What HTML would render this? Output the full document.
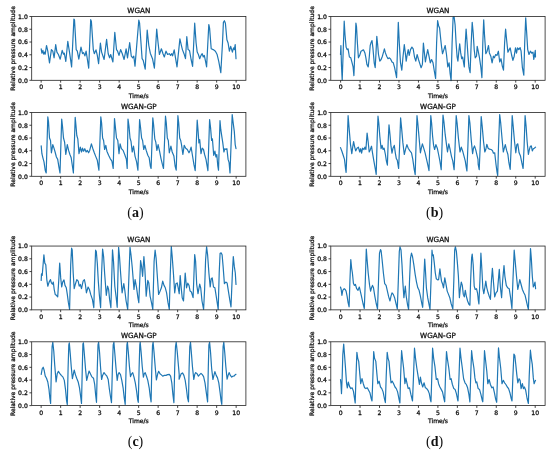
<!DOCTYPE html>
<html><head><meta charset="utf-8"><title>Figure</title>
<style>
html,body{margin:0;padding:0;background:#fff;}
svg{display:block}
.t{font-family:"DejaVu Sans","Liberation Sans",sans-serif;fill:#111;stroke:#111;stroke-width:0.28px}
.cap{font-family:"Liberation Serif","DejaVu Serif",serif;fill:#111}
</style></head><body>
<svg width="550" height="455" viewBox="0 0 550 455">
<rect width="550" height="455" fill="#fff"/>

<g>
<path d="M41.2,48.8 L41.9,53.2 L42.9,50.4 L43.7,54.2 L44.5,52.1 L45.2,54.2 L46.5,45.5 L47.8,51.2 L49.5,62.8 L51.4,49.6 L52.8,51.2 L54.1,57.8 L55.7,44.6 L56.9,52.1 L58.4,54.5 L60.2,59.2 L62.2,50.4 L63.5,54.2 L64.3,53.2 L65.8,61.5 L67.8,41.3 L69.6,52.9 L71.6,66.9 L73.9,19.1 L74.5,19.9 L76.2,49.6 L77.3,51.2 L78.8,59.2 L81.0,47.1 L82.5,53.7 L83.6,52.6 L84.9,55.9 L86.1,51.2 L87.4,59.5 L88.7,68.1 L90.7,19.6 L91.4,21.5 L93.3,49.6 L94.3,53.7 L96.0,49.9 L97.3,55.4 L98.6,63.6 L100.4,43.0 L101.6,52.1 L104.1,59.5 L106.6,39.4 L108.2,53.7 L109.6,57.8 L110.7,54.5 L112.9,62.0 L114.8,32.3 L116.5,49.6 L117.6,51.2 L119.0,55.4 L120.6,49.6 L122.3,53.7 L124.1,59.5 L126.1,48.8 L127.5,57.8 L129.7,42.7 L131.3,56.2 L132.7,57.8 L133.8,56.2 L135.0,66.1 L138.8,20.2 L139.6,23.2 L142.1,58.7 L143.2,60.3 L145.2,69.1 L147.2,30.1 L148.8,45.5 L150.3,53.2 L152.5,58.7 L154.4,68.1 L156.7,29.0 L158.1,43.0 L159.4,54.5 L161.4,48.8 L163.0,53.7 L164.3,57.0 L166.0,51.2 L167.6,54.5 L169.3,53.7 L170.6,55.4 L171.8,53.7 L172.6,55.9 L174.2,49.9 L175.5,57.8 L177.0,66.9 L179.9,38.9 L181.2,44.6 L182.4,49.6 L184.0,53.7 L185.5,58.7 L186.8,36.7 L188.1,49.6 L189.5,50.4 L191.1,59.5 L192.6,66.4 L194.7,23.2 L196.1,43.0 L197.2,52.1 L198.4,54.5 L199.7,58.7 L201.0,55.4 L202.2,53.7 L203.3,57.0 L204.3,55.4 L205.5,61.1 L206.6,66.9 L208.8,24.5 L209.6,28.1 L211.2,48.8 L213.2,49.6 L215.4,51.2 L217.0,54.2 L218.7,61.1 L220.8,72.7 L222.5,43.0 L223.4,22.4 L224.4,20.7 L225.4,23.2 L226.9,39.7 L228.1,43.0 L229.4,51.2 L230.7,46.3 L232.4,52.1 L233.5,47.9 L234.3,49.6 L235.2,44.6 L236.0,58.7" fill="none" stroke="#1f77b4" stroke-width="1.2" stroke-linejoin="round" stroke-linecap="round"/>
<rect x="31.7" y="16.5" width="214.20" height="63.8" fill="none" stroke="#222" stroke-width="0.8"/>
<path d="M41.15,80.3v2.3 M60.65,80.3v2.3 M80.15,80.3v2.3 M99.65,80.3v2.3 M119.15,80.3v2.3 M138.65,80.3v2.3 M158.15,80.3v2.3 M177.65,80.3v2.3 M197.15,80.3v2.3 M216.65,80.3v2.3 M236.15,80.3v2.3 M31.7,80.30h-2.3 M31.7,67.54h-2.3 M31.7,54.78h-2.3 M31.7,42.02h-2.3 M31.7,29.26h-2.3 M31.7,16.50h-2.3" stroke="#222" stroke-width="0.85" fill="none"/>
<text class="t" x="41.15" y="89.40" font-size="6.12" text-anchor="middle">0</text>
<text class="t" x="60.65" y="89.40" font-size="6.12" text-anchor="middle">1</text>
<text class="t" x="80.15" y="89.40" font-size="6.12" text-anchor="middle">2</text>
<text class="t" x="99.65" y="89.40" font-size="6.12" text-anchor="middle">3</text>
<text class="t" x="119.15" y="89.40" font-size="6.12" text-anchor="middle">4</text>
<text class="t" x="138.65" y="89.40" font-size="6.12" text-anchor="middle">5</text>
<text class="t" x="158.15" y="89.40" font-size="6.12" text-anchor="middle">6</text>
<text class="t" x="177.65" y="89.40" font-size="6.12" text-anchor="middle">7</text>
<text class="t" x="197.15" y="89.40" font-size="6.12" text-anchor="middle">8</text>
<text class="t" x="216.65" y="89.40" font-size="6.12" text-anchor="middle">9</text>
<text class="t" x="236.15" y="89.40" font-size="6.12" text-anchor="middle">10</text>
<text class="t" x="27.80" y="82.55" font-size="6.12" text-anchor="end">0.0</text>
<text class="t" x="27.80" y="69.79" font-size="6.12" text-anchor="end">0.2</text>
<text class="t" x="27.80" y="57.03" font-size="6.12" text-anchor="end">0.4</text>
<text class="t" x="27.80" y="44.27" font-size="6.12" text-anchor="end">0.6</text>
<text class="t" x="27.80" y="31.51" font-size="6.12" text-anchor="end">0.8</text>
<text class="t" x="27.80" y="18.75" font-size="6.12" text-anchor="end">1.0</text>
<text class="t" x="138.80" y="97.50" font-size="6.03" text-anchor="middle">Time/s</text>
<text class="t" x="138.80" y="12.80" font-size="7.18" stroke-width="0.32" text-anchor="middle">WGAN</text>
<text class="t" transform="translate(14.50,48.40) rotate(-90)" font-size="6.03" text-anchor="middle">Relative pressure amplitude</text>
</g>
<g>
<path d="M41.2,145.9 L41.9,153.7 L42.9,157.8 L44.0,161.9 L45.2,170.2 L46.2,173.0 L47.8,116.9 L48.5,121.5 L49.5,138.0 L50.5,140.5 L51.4,152.8 L52.8,144.6 L53.9,147.9 L55.1,152.0 L56.4,157.0 L57.7,159.4 L58.9,166.9 L60.0,173.0 L61.7,119.0 L62.5,126.4 L63.5,138.0 L64.6,142.1 L65.8,154.5 L67.3,144.6 L68.6,150.4 L69.9,154.5 L71.2,157.8 L72.4,166.0 L73.4,173.0 L75.2,117.4 L75.9,124.8 L76.8,135.5 L77.8,138.8 L79.0,153.7 L80.3,147.1 L81.5,152.0 L82.5,148.2 L83.6,151.2 L84.8,148.7 L86.1,152.0 L87.4,150.4 L88.6,152.8 L89.7,150.4 L91.4,143.8 L92.7,148.2 L94.3,152.8 L95.6,156.1 L97.3,160.3 L98.9,170.2 L100.8,116.9 L101.6,123.1 L102.6,138.0 L103.6,140.5 L104.6,149.5 L105.8,145.4 L106.9,151.2 L108.6,155.3 L110.2,158.6 L111.9,161.1 L113.2,168.5 L114.5,118.5 L115.3,126.4 L116.5,138.0 L117.8,140.5 L119.0,153.7 L120.1,143.8 L121.4,148.7 L123.1,150.4 L124.7,154.5 L126.4,159.4 L127.2,168.5 L128.0,119.0 L129.0,126.4 L130.0,138.0 L131.0,141.3 L132.2,152.0 L133.5,146.2 L135.0,156.1 L136.6,161.9 L137.9,170.2 L139.6,119.5 L140.6,128.1 L141.6,138.0 L142.6,140.5 L143.7,149.5 L144.9,145.4 L146.2,150.4 L147.8,155.3 L149.2,157.8 L150.3,166.0 L151.1,168.5 L152.8,117.9 L153.6,124.8 L154.8,138.8 L155.8,142.1 L156.9,150.4 L158.1,144.6 L159.4,150.4 L161.0,158.6 L162.4,164.4 L163.5,168.5 L165.5,116.2 L166.3,123.1 L167.3,138.0 L168.3,140.5 L169.3,152.8 L170.9,146.2 L172.2,152.0 L173.9,156.1 L175.1,166.0 L176.2,170.2 L177.9,115.7 L178.7,123.1 L179.7,138.0 L180.7,140.5 L181.5,144.6 L182.9,154.5 L184.2,145.4 L185.7,148.2 L187.3,149.5 L189.0,152.8 L190.1,150.4 L191.1,147.1 L192.3,154.5 L193.9,164.4 L195.2,170.6 L197.2,120.2 L198.0,129.7 L198.9,142.9 L199.7,139.6 L201.0,153.7 L202.2,148.2 L203.5,149.5 L204.6,154.5 L206.0,159.4 L207.1,166.0 L207.9,170.6 L209.6,119.5 L210.6,128.1 L211.6,140.5 L212.4,138.8 L213.7,155.3 L214.9,151.2 L215.9,157.0 L216.8,154.5 L217.8,166.0 L218.5,170.2 L220.0,120.7 L220.8,129.7 L221.8,136.3 L222.8,142.9 L223.9,152.0 L224.9,148.7 L226.1,149.5 L226.9,148.7 L228.1,159.4 L229.1,162.7 L230.0,173.0 L232.2,114.6 L233.2,123.1 L234.3,131.4 L235.2,144.6 L236.0,148.7" fill="none" stroke="#1f77b4" stroke-width="1.2" stroke-linejoin="round" stroke-linecap="round"/>
<rect x="31.7" y="112.5" width="214.20" height="63.8" fill="none" stroke="#222" stroke-width="0.8"/>
<path d="M41.15,176.3v2.3 M60.65,176.3v2.3 M80.15,176.3v2.3 M99.65,176.3v2.3 M119.15,176.3v2.3 M138.65,176.3v2.3 M158.15,176.3v2.3 M177.65,176.3v2.3 M197.15,176.3v2.3 M216.65,176.3v2.3 M236.15,176.3v2.3 M31.7,176.30h-2.3 M31.7,163.54h-2.3 M31.7,150.78h-2.3 M31.7,138.02h-2.3 M31.7,125.26h-2.3 M31.7,112.50h-2.3" stroke="#222" stroke-width="0.85" fill="none"/>
<text class="t" x="41.15" y="185.40" font-size="6.12" text-anchor="middle">0</text>
<text class="t" x="60.65" y="185.40" font-size="6.12" text-anchor="middle">1</text>
<text class="t" x="80.15" y="185.40" font-size="6.12" text-anchor="middle">2</text>
<text class="t" x="99.65" y="185.40" font-size="6.12" text-anchor="middle">3</text>
<text class="t" x="119.15" y="185.40" font-size="6.12" text-anchor="middle">4</text>
<text class="t" x="138.65" y="185.40" font-size="6.12" text-anchor="middle">5</text>
<text class="t" x="158.15" y="185.40" font-size="6.12" text-anchor="middle">6</text>
<text class="t" x="177.65" y="185.40" font-size="6.12" text-anchor="middle">7</text>
<text class="t" x="197.15" y="185.40" font-size="6.12" text-anchor="middle">8</text>
<text class="t" x="216.65" y="185.40" font-size="6.12" text-anchor="middle">9</text>
<text class="t" x="236.15" y="185.40" font-size="6.12" text-anchor="middle">10</text>
<text class="t" x="27.80" y="178.55" font-size="6.12" text-anchor="end">0.0</text>
<text class="t" x="27.80" y="165.79" font-size="6.12" text-anchor="end">0.2</text>
<text class="t" x="27.80" y="153.03" font-size="6.12" text-anchor="end">0.4</text>
<text class="t" x="27.80" y="140.27" font-size="6.12" text-anchor="end">0.6</text>
<text class="t" x="27.80" y="127.51" font-size="6.12" text-anchor="end">0.8</text>
<text class="t" x="27.80" y="114.75" font-size="6.12" text-anchor="end">1.0</text>
<text class="t" x="138.80" y="193.50" font-size="6.03" text-anchor="middle">Time/s</text>
<text class="t" x="138.80" y="108.80" font-size="7.18" stroke-width="0.32" text-anchor="middle">WGAN-GP</text>
<text class="t" transform="translate(14.50,144.40) rotate(-90)" font-size="6.03" text-anchor="middle">Relative pressure amplitude</text>
</g>
<g>
<path d="M41.2,280.4 L41.5,273.8 L42.2,275.5 L43.9,254.8 L44.8,263.1 L45.8,264.7 L46.8,279.6 L47.8,286.2 L49.1,282.1 L50.5,279.6 L51.4,282.9 L52.4,284.2 L53.3,282.1 L54.2,289.5 L55.2,294.4 L56.4,295.3 L57.7,296.9 L58.7,281.2 L59.7,263.1 L60.7,277.9 L61.7,287.0 L62.7,282.1 L64.0,279.9 L65.0,285.4 L66.3,287.8 L67.3,294.4 L68.4,302.7 L69.6,309.3 L70.7,264.7 L71.6,248.2 L72.2,249.9 L73.2,273.0 L74.2,288.7 L75.5,283.7 L76.8,279.6 L78.2,281.2 L79.2,286.2 L80.3,284.5 L81.5,288.7 L83.1,281.2 L84.4,279.6 L85.4,284.5 L86.4,292.8 L88.1,287.0 L89.4,289.5 L90.7,294.4 L92.4,299.4 L93.8,307.6 L94.8,273.0 L95.6,250.2 L96.3,251.5 L97.3,263.1 L98.3,281.2 L99.3,294.4 L100.6,307.6 L101.6,273.0 L102.6,249.1 L103.6,256.5 L104.6,273.0 L106.3,295.3 L107.6,286.2 L108.6,289.5 L109.6,299.4 L110.9,307.6 L112.5,249.9 L113.5,261.4 L114.8,286.2 L116.2,297.7 L117.2,307.3 L118.6,247.4 L119.5,256.5 L120.6,273.0 L122.1,292.8 L123.8,283.7 L124.7,289.5 L126.1,301.0 L127.7,309.3 L130.0,247.4 L131.0,254.8 L132.3,268.0 L134.0,289.5 L135.1,279.6 L136.6,287.8 L137.9,297.7 L138.8,302.7 L140.6,260.6 L141.6,266.4 L142.6,276.3 L143.9,256.5 L144.9,269.7 L146.2,296.1 L147.8,280.4 L148.8,282.9 L150.1,296.1 L151.5,302.7 L152.8,309.3 L154.1,261.4 L155.1,250.2 L156.1,258.1 L157.1,273.0 L158.6,294.4 L159.7,292.0 L161.4,287.8 L162.7,281.2 L164.0,285.4 L165.3,287.8 L166.6,292.8 L168.0,302.7 L169.3,309.3 L170.3,273.0 L171.3,246.6 L172.2,256.5 L173.4,273.0 L174.7,292.8 L175.9,283.7 L177.2,282.9 L178.2,287.8 L179.2,293.6 L180.2,275.5 L181.2,287.8 L182.2,297.7 L183.5,301.0 L185.2,273.0 L186.5,287.8 L187.8,283.2 L189.0,285.4 L190.1,291.1 L191.4,292.0 L193.1,297.7 L194.7,254.5 L195.6,261.4 L196.7,284.5 L198.0,293.6 L199.7,284.2 L200.7,287.8 L202.0,301.0 L203.6,309.3 L204.6,289.5 L205.6,259.8 L206.6,246.9 L207.6,254.8 L208.9,273.0 L210.2,287.0 L211.2,278.8 L212.2,277.9 L213.5,287.0 L214.9,287.8 L216.2,296.1 L218.2,309.3 L219.2,273.0 L220.1,253.2 L221.1,252.9 L222.1,254.8 L223.1,266.4 L224.4,283.7 L225.8,282.1 L227.1,282.9 L228.4,291.1 L229.7,299.4 L231.0,306.8 L232.4,273.0 L233.3,256.5 L234.3,266.4 L235.3,273.0 L236.0,284.5" fill="none" stroke="#1f77b4" stroke-width="1.2" stroke-linejoin="round" stroke-linecap="round"/>
<rect x="31.7" y="246.05" width="214.20" height="63.8" fill="none" stroke="#222" stroke-width="0.8"/>
<path d="M41.15,309.85v2.3 M60.65,309.85v2.3 M80.15,309.85v2.3 M99.65,309.85v2.3 M119.15,309.85v2.3 M138.65,309.85v2.3 M158.15,309.85v2.3 M177.65,309.85v2.3 M197.15,309.85v2.3 M216.65,309.85v2.3 M236.15,309.85v2.3 M31.7,309.85h-2.3 M31.7,297.09h-2.3 M31.7,284.33h-2.3 M31.7,271.57h-2.3 M31.7,258.81h-2.3 M31.7,246.05h-2.3" stroke="#222" stroke-width="0.85" fill="none"/>
<text class="t" x="41.15" y="318.95" font-size="6.12" text-anchor="middle">0</text>
<text class="t" x="60.65" y="318.95" font-size="6.12" text-anchor="middle">1</text>
<text class="t" x="80.15" y="318.95" font-size="6.12" text-anchor="middle">2</text>
<text class="t" x="99.65" y="318.95" font-size="6.12" text-anchor="middle">3</text>
<text class="t" x="119.15" y="318.95" font-size="6.12" text-anchor="middle">4</text>
<text class="t" x="138.65" y="318.95" font-size="6.12" text-anchor="middle">5</text>
<text class="t" x="158.15" y="318.95" font-size="6.12" text-anchor="middle">6</text>
<text class="t" x="177.65" y="318.95" font-size="6.12" text-anchor="middle">7</text>
<text class="t" x="197.15" y="318.95" font-size="6.12" text-anchor="middle">8</text>
<text class="t" x="216.65" y="318.95" font-size="6.12" text-anchor="middle">9</text>
<text class="t" x="236.15" y="318.95" font-size="6.12" text-anchor="middle">10</text>
<text class="t" x="27.80" y="312.10" font-size="6.12" text-anchor="end">0.0</text>
<text class="t" x="27.80" y="299.34" font-size="6.12" text-anchor="end">0.2</text>
<text class="t" x="27.80" y="286.58" font-size="6.12" text-anchor="end">0.4</text>
<text class="t" x="27.80" y="273.82" font-size="6.12" text-anchor="end">0.6</text>
<text class="t" x="27.80" y="261.06" font-size="6.12" text-anchor="end">0.8</text>
<text class="t" x="27.80" y="248.30" font-size="6.12" text-anchor="end">1.0</text>
<text class="t" x="138.80" y="327.05" font-size="6.03" text-anchor="middle">Time/s</text>
<text class="t" x="138.80" y="242.35" font-size="7.18" stroke-width="0.32" text-anchor="middle">WGAN</text>
<text class="t" transform="translate(14.50,277.95) rotate(-90)" font-size="6.03" text-anchor="middle">Relative pressure amplitude</text>
</g>
<g>
<path d="M41.2,374.3 L42.2,368.8 L43.2,367.2 L44.2,370.5 L45.2,375.9 L46.5,378.2 L47.8,382.0 L49.0,389.4 L49.8,397.7 L50.6,403.5 L51.4,368.0 L52.1,346.5 L52.8,342.4 L53.8,351.5 L54.7,364.7 L56.1,382.0 L57.2,373.8 L58.4,371.3 L59.7,373.3 L61.3,375.4 L63.0,377.1 L64.3,380.4 L65.5,389.4 L66.6,401.0 L67.3,404.6 L68.1,368.0 L68.8,344.9 L69.3,342.9 L70.2,353.1 L71.2,366.3 L72.4,378.7 L73.4,373.8 L74.2,370.0 L75.4,374.6 L76.7,378.2 L78.2,382.0 L79.5,387.8 L80.8,397.7 L81.5,403.5 L82.3,368.0 L82.9,344.1 L83.4,342.9 L84.4,354.8 L85.6,369.6 L86.7,380.4 L88.1,374.6 L89.1,371.0 L90.4,373.8 L91.7,376.6 L93.5,378.2 L94.7,384.5 L95.6,394.4 L96.5,402.3 L97.3,368.0 L98.0,344.9 L98.6,342.4 L99.6,353.1 L100.6,368.0 L101.6,379.5 L102.6,375.4 L104.0,372.6 L105.3,374.3 L106.9,376.2 L108.2,379.5 L109.2,387.8 L110.4,396.0 L111.5,402.6 L112.4,368.0 L113.2,344.9 L113.9,342.4 L114.8,353.1 L116.0,368.0 L117.2,380.4 L118.1,374.6 L119.1,372.6 L120.5,374.6 L121.8,380.4 L123.1,387.8 L124.2,397.7 L125.2,404.3 L126.1,368.0 L126.9,344.9 L127.4,342.4 L128.4,353.1 L129.4,366.3 L130.5,376.6 L131.7,373.8 L132.7,372.6 L134.0,377.1 L135.3,382.8 L136.6,391.1 L137.6,399.3 L138.3,402.3 L139.1,368.0 L139.8,344.9 L140.2,342.4 L141.2,353.1 L142.2,366.3 L143.4,377.1 L144.2,373.8 L145.2,372.6 L146.5,376.2 L147.8,380.4 L149.2,387.8 L150.3,396.9 L151.1,401.8 L151.8,368.0 L152.5,345.7 L153.1,342.4 L154.1,353.1 L155.3,368.0 L156.4,379.9 L157.7,373.8 L158.7,371.3 L160.0,373.8 L161.4,374.9 L162.7,376.2 L164.3,375.4 L166.0,375.4 L167.6,374.6 L169.3,374.3 L170.6,376.2 L171.8,382.8 L172.9,394.4 L173.9,402.6 L174.7,368.0 L175.5,346.5 L176.2,342.4 L177.2,351.5 L178.2,363.0 L179.2,374.6 L179.1,379.2 L180.2,376.2 L181.2,373.8 L182.5,372.9 L183.9,375.4 L185.2,380.4 L186.5,389.4 L187.5,397.7 L188.5,401.8 L189.1,368.0 L189.8,346.5 L190.5,342.4 L191.4,353.1 L192.4,366.3 L193.8,379.5 L194.7,374.6 L195.7,372.6 L197.1,373.8 L198.4,376.2 L199.7,374.6 L201.0,373.3 L202.3,374.6 L203.6,376.6 L205.0,382.8 L206.3,392.7 L207.6,401.8 L208.3,368.0 L208.9,344.9 L209.6,342.4 L210.6,353.1 L211.6,368.0 L212.9,379.5 L213.9,375.4 L214.9,371.6 L216.2,375.4 L217.5,377.9 L218.8,382.8 L220.1,392.7 L221.1,401.0 L221.8,404.3 L222.5,368.0 L223.1,346.5 L223.8,342.4 L224.8,353.1 L225.8,366.3 L227.1,379.2 L228.1,375.4 L229.1,372.6 L230.4,375.4 L231.7,377.1 L233.0,376.2 L234.3,375.9 L235.3,374.6 L236.0,374.3" fill="none" stroke="#1f77b4" stroke-width="1.2" stroke-linejoin="round" stroke-linecap="round"/>
<rect x="31.7" y="341.8" width="214.20" height="63.8" fill="none" stroke="#222" stroke-width="0.8"/>
<path d="M41.15,405.6v2.3 M60.65,405.6v2.3 M80.15,405.6v2.3 M99.65,405.6v2.3 M119.15,405.6v2.3 M138.65,405.6v2.3 M158.15,405.6v2.3 M177.65,405.6v2.3 M197.15,405.6v2.3 M216.65,405.6v2.3 M236.15,405.6v2.3 M31.7,405.60h-2.3 M31.7,392.84h-2.3 M31.7,380.08h-2.3 M31.7,367.32h-2.3 M31.7,354.56h-2.3 M31.7,341.80h-2.3" stroke="#222" stroke-width="0.85" fill="none"/>
<text class="t" x="41.15" y="414.70" font-size="6.12" text-anchor="middle">0</text>
<text class="t" x="60.65" y="414.70" font-size="6.12" text-anchor="middle">1</text>
<text class="t" x="80.15" y="414.70" font-size="6.12" text-anchor="middle">2</text>
<text class="t" x="99.65" y="414.70" font-size="6.12" text-anchor="middle">3</text>
<text class="t" x="119.15" y="414.70" font-size="6.12" text-anchor="middle">4</text>
<text class="t" x="138.65" y="414.70" font-size="6.12" text-anchor="middle">5</text>
<text class="t" x="158.15" y="414.70" font-size="6.12" text-anchor="middle">6</text>
<text class="t" x="177.65" y="414.70" font-size="6.12" text-anchor="middle">7</text>
<text class="t" x="197.15" y="414.70" font-size="6.12" text-anchor="middle">8</text>
<text class="t" x="216.65" y="414.70" font-size="6.12" text-anchor="middle">9</text>
<text class="t" x="236.15" y="414.70" font-size="6.12" text-anchor="middle">10</text>
<text class="t" x="27.80" y="407.85" font-size="6.12" text-anchor="end">0.0</text>
<text class="t" x="27.80" y="395.09" font-size="6.12" text-anchor="end">0.2</text>
<text class="t" x="27.80" y="382.33" font-size="6.12" text-anchor="end">0.4</text>
<text class="t" x="27.80" y="369.57" font-size="6.12" text-anchor="end">0.6</text>
<text class="t" x="27.80" y="356.81" font-size="6.12" text-anchor="end">0.8</text>
<text class="t" x="27.80" y="344.05" font-size="6.12" text-anchor="end">1.0</text>
<text class="t" x="138.80" y="422.80" font-size="6.03" text-anchor="middle">Time/s</text>
<text class="t" x="138.80" y="338.10" font-size="7.18" stroke-width="0.32" text-anchor="middle">WGAN-GP</text>
<text class="t" transform="translate(14.50,373.70) rotate(-90)" font-size="6.03" text-anchor="middle">Relative pressure amplitude</text>
</g>
<g>
<path d="M340.5,54.5 L340.9,45.5 L341.5,66.1 L342.2,80.1 L343.2,51.2 L344.2,21.2 L345.0,34.7 L346.1,47.1 L347.1,49.6 L348.1,48.8 L349.4,57.0 L350.8,57.8 L352.1,62.8 L353.1,66.9 L353.9,75.6 L354.9,51.2 L355.9,23.2 L356.5,26.5 L357.4,43.0 L358.4,57.8 L359.7,55.4 L361.0,51.2 L362.3,50.4 L363.6,49.9 L364.9,52.9 L365.9,57.8 L366.9,64.4 L368.2,66.9 L369.2,57.8 L370.2,45.5 L371.2,42.2 L372.0,40.5 L372.9,47.9 L374.2,62.8 L375.2,67.7 L376.0,52.9 L376.8,36.4 L377.5,43.0 L378.5,54.5 L379.8,61.1 L381.1,59.5 L382.4,56.2 L383.8,51.2 L384.4,48.8 L385.4,52.9 L386.7,56.2 L388.0,58.7 L389.4,57.8 L390.7,59.2 L392.0,62.0 L393.3,62.8 L394.6,67.7 L395.6,72.7 L396.6,77.6 L397.4,51.2 L398.3,22.4 L399.3,43.0 L400.5,62.8 L401.8,70.2 L402.9,57.8 L404.3,44.6 L405.3,52.9 L406.2,61.1 L407.2,54.5 L408.2,49.6 L409.2,55.4 L410.5,49.6 L411.9,47.1 L413.2,48.8 L414.5,57.0 L415.8,61.1 L417.1,54.5 L418.5,59.5 L419.8,63.6 L421.1,67.7 L422.4,64.4 L423.4,43.0 L424.4,52.9 L425.4,62.0 L426.4,56.2 L427.7,49.6 L429.0,56.2 L430.3,62.8 L431.6,59.5 L433.0,62.8 L434.3,71.0 L435.6,78.5 L436.6,43.0 L437.6,20.7 L438.6,25.7 L439.6,28.1 L440.6,38.0 L441.5,46.3 L442.5,53.7 L443.9,49.6 L445.2,45.5 L446.5,54.5 L447.8,66.9 L449.1,62.8 L450.1,73.5 L451.1,80.6 L452.1,43.0 L453.1,17.4 L454.1,16.9 L455.1,24.8 L456.1,43.0 L457.1,57.0 L457.9,61.1 L458.7,52.9 L459.7,43.8 L460.7,52.9 L461.7,58.7 L462.7,57.0 L463.6,62.8 L464.3,66.9 L465.3,43.0 L466.1,29.0 L466.9,39.7 L467.9,54.5 L468.9,66.9 L470.1,72.7 L471.2,43.0 L472.2,22.4 L473.2,33.1 L474.2,49.6 L475.2,57.8 L476.5,56.2 L477.2,46.3 L478.2,51.2 L479.5,57.8 L480.9,67.7 L481.9,77.6 L482.8,43.0 L483.7,19.9 L484.5,34.7 L485.8,53.7 L487.1,51.2 L488.5,45.5 L489.4,52.9 L490.8,56.2 L492.1,62.8 L493.4,56.2 L494.4,57.8 L495.7,54.5 L497.0,55.4 L498.4,51.2 L499.7,62.0 L501.0,58.7 L502.3,66.1 L503.5,70.2 L504.6,43.0 L505.6,29.0 L506.6,39.7 L507.9,52.1 L509.2,49.6 L510.2,47.9 L511.5,54.5 L512.9,60.3 L514.2,56.2 L515.5,47.9 L516.5,53.2 L517.5,47.9 L518.8,49.6 L520.1,47.6 L521.1,51.2 L522.4,67.7 L523.8,75.2 L524.7,43.0 L525.7,17.9 L526.7,33.1 L527.7,49.6 L529.0,54.5 L530.4,51.2 L531.7,53.2 L533.0,52.1 L533.8,59.5 L534.6,54.5 L535.3,50.4 L535.5,57.0" fill="none" stroke="#1f77b4" stroke-width="1.2" stroke-linejoin="round" stroke-linecap="round"/>
<rect x="330.8" y="16.5" width="214.30" height="63.8" fill="none" stroke="#222" stroke-width="0.8"/>
<path d="M340.60,80.3v2.3 M360.06,80.3v2.3 M379.52,80.3v2.3 M398.98,80.3v2.3 M418.44,80.3v2.3 M437.90,80.3v2.3 M457.36,80.3v2.3 M476.82,80.3v2.3 M496.28,80.3v2.3 M515.74,80.3v2.3 M535.20,80.3v2.3 M330.8,80.30h-2.3 M330.8,67.54h-2.3 M330.8,54.78h-2.3 M330.8,42.02h-2.3 M330.8,29.26h-2.3 M330.8,16.50h-2.3" stroke="#222" stroke-width="0.85" fill="none"/>
<text class="t" x="340.60" y="89.40" font-size="6.12" text-anchor="middle">0</text>
<text class="t" x="360.06" y="89.40" font-size="6.12" text-anchor="middle">1</text>
<text class="t" x="379.52" y="89.40" font-size="6.12" text-anchor="middle">2</text>
<text class="t" x="398.98" y="89.40" font-size="6.12" text-anchor="middle">3</text>
<text class="t" x="418.44" y="89.40" font-size="6.12" text-anchor="middle">4</text>
<text class="t" x="437.90" y="89.40" font-size="6.12" text-anchor="middle">5</text>
<text class="t" x="457.36" y="89.40" font-size="6.12" text-anchor="middle">6</text>
<text class="t" x="476.82" y="89.40" font-size="6.12" text-anchor="middle">7</text>
<text class="t" x="496.28" y="89.40" font-size="6.12" text-anchor="middle">8</text>
<text class="t" x="515.74" y="89.40" font-size="6.12" text-anchor="middle">9</text>
<text class="t" x="535.20" y="89.40" font-size="6.12" text-anchor="middle">10</text>
<text class="t" x="326.90" y="82.55" font-size="6.12" text-anchor="end">0.0</text>
<text class="t" x="326.90" y="69.79" font-size="6.12" text-anchor="end">0.2</text>
<text class="t" x="326.90" y="57.03" font-size="6.12" text-anchor="end">0.4</text>
<text class="t" x="326.90" y="44.27" font-size="6.12" text-anchor="end">0.6</text>
<text class="t" x="326.90" y="31.51" font-size="6.12" text-anchor="end">0.8</text>
<text class="t" x="326.90" y="18.75" font-size="6.12" text-anchor="end">1.0</text>
<text class="t" x="437.95" y="97.50" font-size="6.03" text-anchor="middle">Time/s</text>
<text class="t" x="437.95" y="12.80" font-size="7.18" stroke-width="0.32" text-anchor="middle">WGAN</text>
<text class="t" transform="translate(313.60,48.40) rotate(-90)" font-size="6.03" text-anchor="middle">Relative pressure amplitude</text>
</g>
<g>
<path d="M340.5,147.6 L341.9,151.2 L343.2,155.3 L344.5,159.4 L345.5,168.5 L346.1,172.3 L347.1,146.2 L348.1,115.7 L349.1,128.1 L350.4,143.8 L351.8,153.7 L352.7,147.1 L353.6,141.6 L354.7,147.1 L355.7,150.9 L357.0,148.2 L358.4,147.1 L359.7,152.0 L360.7,148.7 L361.6,153.2 L362.6,148.2 L364.0,149.5 L364.9,147.1 L365.9,149.5 L367.1,133.0 L368.1,141.3 L369.2,152.0 L370.2,149.9 L371.5,146.2 L372.5,152.8 L373.9,161.1 L375.2,168.5 L376.2,174.3 L377.2,138.0 L378.0,116.2 L378.8,123.1 L379.8,136.3 L381.1,148.7 L382.1,145.4 L383.1,149.5 L384.1,148.2 L385.4,154.5 L386.4,161.1 L387.4,165.2 L388.2,141.3 L389.0,124.8 L390.0,134.7 L391.0,146.2 L392.0,153.2 L393.0,148.2 L394.3,145.4 L395.3,152.8 L396.3,158.6 L397.3,160.3 L398.6,168.5 L399.6,146.2 L400.6,117.9 L401.6,128.1 L402.9,142.9 L404.3,154.5 L405.6,149.2 L406.9,144.6 L408.2,148.2 L409.9,150.9 L411.5,152.8 L412.8,159.4 L414.2,169.3 L415.2,174.6 L416.0,146.2 L417.0,115.7 L417.8,123.1 L419.1,138.0 L420.4,152.8 L421.4,147.9 L422.4,143.8 L423.7,148.2 L425.1,152.8 L426.4,158.6 L427.7,164.4 L429.0,170.6 L429.8,146.2 L430.8,115.7 L431.6,123.1 L432.6,136.3 L433.6,145.4 L434.6,149.5 L435.9,144.6 L437.3,148.2 L438.6,154.5 L439.9,161.1 L441.2,169.7 L442.0,146.2 L443.0,115.2 L443.9,121.5 L445.2,134.7 L446.5,144.6 L447.5,152.0 L448.8,143.8 L450.1,149.5 L451.4,156.1 L452.8,161.1 L454.1,169.7 L455.1,146.2 L456.2,115.7 L457.1,123.1 L458.4,138.0 L460.0,152.0 L461.3,147.1 L462.7,151.2 L464.0,156.1 L465.3,161.1 L466.3,167.7 L466.9,171.0 L467.9,146.2 L468.9,115.7 L469.9,123.1 L471.2,139.6 L472.6,153.7 L473.5,148.2 L474.5,145.9 L475.9,150.4 L477.2,156.1 L478.0,159.4 L478.2,164.4 L479.2,169.7 L480.2,146.2 L481.2,116.5 L482.2,126.4 L483.5,141.3 L484.8,152.0 L485.8,149.5 L486.8,144.3 L488.1,148.2 L489.4,149.2 L491.1,149.5 L492.4,150.4 L493.4,153.2 L494.7,152.8 L496.0,164.4 L497.0,171.8 L497.7,175.6 L498.5,146.2 L499.7,114.6 L500.7,123.1 L502.0,138.0 L503.3,152.0 L504.3,148.2 L505.3,144.6 L506.6,150.4 L507.9,154.5 L508.9,162.7 L510.2,169.3 L511.2,146.2 L512.2,115.7 L513.2,126.4 L514.5,141.3 L515.8,152.8 L516.8,144.6 L517.8,143.8 L519.1,152.8 L520.5,156.1 L521.8,162.7 L523.1,168.5 L524.1,146.2 L525.1,115.7 L526.1,126.4 L527.1,141.3 L528.4,154.5 L529.4,149.5 L530.4,146.2 L531.3,145.9 L532.3,150.9 L533.3,148.7 L534.3,148.2 L535.6,147.1" fill="none" stroke="#1f77b4" stroke-width="1.2" stroke-linejoin="round" stroke-linecap="round"/>
<rect x="330.8" y="112.5" width="214.30" height="63.8" fill="none" stroke="#222" stroke-width="0.8"/>
<path d="M340.60,176.3v2.3 M360.06,176.3v2.3 M379.52,176.3v2.3 M398.98,176.3v2.3 M418.44,176.3v2.3 M437.90,176.3v2.3 M457.36,176.3v2.3 M476.82,176.3v2.3 M496.28,176.3v2.3 M515.74,176.3v2.3 M535.20,176.3v2.3 M330.8,176.30h-2.3 M330.8,163.54h-2.3 M330.8,150.78h-2.3 M330.8,138.02h-2.3 M330.8,125.26h-2.3 M330.8,112.50h-2.3" stroke="#222" stroke-width="0.85" fill="none"/>
<text class="t" x="340.60" y="185.40" font-size="6.12" text-anchor="middle">0</text>
<text class="t" x="360.06" y="185.40" font-size="6.12" text-anchor="middle">1</text>
<text class="t" x="379.52" y="185.40" font-size="6.12" text-anchor="middle">2</text>
<text class="t" x="398.98" y="185.40" font-size="6.12" text-anchor="middle">3</text>
<text class="t" x="418.44" y="185.40" font-size="6.12" text-anchor="middle">4</text>
<text class="t" x="437.90" y="185.40" font-size="6.12" text-anchor="middle">5</text>
<text class="t" x="457.36" y="185.40" font-size="6.12" text-anchor="middle">6</text>
<text class="t" x="476.82" y="185.40" font-size="6.12" text-anchor="middle">7</text>
<text class="t" x="496.28" y="185.40" font-size="6.12" text-anchor="middle">8</text>
<text class="t" x="515.74" y="185.40" font-size="6.12" text-anchor="middle">9</text>
<text class="t" x="535.20" y="185.40" font-size="6.12" text-anchor="middle">10</text>
<text class="t" x="326.90" y="178.55" font-size="6.12" text-anchor="end">0.0</text>
<text class="t" x="326.90" y="165.79" font-size="6.12" text-anchor="end">0.2</text>
<text class="t" x="326.90" y="153.03" font-size="6.12" text-anchor="end">0.4</text>
<text class="t" x="326.90" y="140.27" font-size="6.12" text-anchor="end">0.6</text>
<text class="t" x="326.90" y="127.51" font-size="6.12" text-anchor="end">0.8</text>
<text class="t" x="326.90" y="114.75" font-size="6.12" text-anchor="end">1.0</text>
<text class="t" x="437.95" y="193.50" font-size="6.03" text-anchor="middle">Time/s</text>
<text class="t" x="437.95" y="108.80" font-size="7.18" stroke-width="0.32" text-anchor="middle">WGAN-GP</text>
<text class="t" transform="translate(313.60,144.40) rotate(-90)" font-size="6.03" text-anchor="middle">Relative pressure amplitude</text>
</g>
<g>
<path d="M340.5,287.0 L341.2,289.5 L341.9,295.3 L342.8,290.3 L344.2,288.7 L345.2,289.5 L346.1,291.1 L347.1,296.1 L348.1,302.7 L349.1,306.8 L349.9,281.2 L350.8,259.5 L351.6,268.0 L352.4,273.0 L353.4,283.2 L354.4,285.4 L355.4,284.5 L356.7,288.7 L358.0,290.3 L359.3,287.0 L360.3,291.1 L361.6,296.9 L363.0,303.5 L364.3,308.5 L365.3,281.2 L366.3,249.1 L367.1,259.8 L368.2,273.0 L369.6,285.4 L370.6,291.1 L371.5,287.8 L372.5,285.4 L373.5,287.8 L374.8,296.1 L376.2,303.5 L377.5,308.9 L378.5,281.2 L379.5,253.2 L380.5,249.6 L381.1,250.7 L382.1,259.8 L383.4,273.0 L384.7,283.7 L386.1,285.4 L387.4,291.1 L388.7,296.9 L390.0,301.0 L391.0,296.1 L392.0,292.8 L393.3,294.4 L394.6,297.7 L396.0,303.5 L397.3,308.9 L398.3,281.2 L399.3,251.5 L400.0,246.9 L401.0,249.9 L402.0,264.7 L402.9,282.9 L403.9,297.7 L405.3,286.2 L406.2,296.1 L407.6,305.2 L408.6,309.3 L409.5,281.2 L410.5,258.1 L411.5,253.2 L412.5,256.5 L413.8,264.7 L415.2,274.6 L416.5,282.1 L417.8,287.8 L419.1,290.3 L420.4,296.1 L421.8,303.5 L422.7,307.3 L423.7,281.2 L424.7,259.0 L425.4,269.7 L426.4,287.8 L427.7,297.7 L429.0,304.3 L430.0,309.3 L431.0,281.2 L432.0,250.2 L432.6,255.7 L433.3,254.8 L434.3,263.1 L435.3,273.0 L436.3,278.8 L437.6,279.9 L438.6,279.6 L439.9,268.9 L440.6,274.6 L441.5,281.2 L442.5,283.7 L443.5,287.8 L444.8,277.9 L445.8,283.2 L447.2,291.1 L448.5,294.4 L449.8,297.7 L451.1,303.5 L452.8,308.9 L453.8,281.2 L454.7,249.9 L455.4,246.9 L456.4,251.5 L457.4,263.1 L458.4,276.3 L459.4,297.7 L460.4,287.8 L461.3,282.1 L462.3,285.4 L463.3,294.4 L464.3,296.9 L465.3,290.3 L466.3,296.1 L467.6,301.0 L468.9,304.3 L469.9,305.2 L470.6,281.2 L471.6,258.1 L472.2,254.0 L473.2,264.7 L474.2,286.2 L475.2,289.5 L476.5,288.7 L477.5,292.8 L478.0,296.9 L478.2,299.4 L478.9,304.0 L479.9,281.2 L480.9,253.2 L481.9,269.7 L482.8,287.8 L483.8,293.6 L484.8,287.8 L485.8,281.2 L486.8,287.8 L488.1,292.8 L489.4,296.9 L490.4,299.4 L491.4,281.2 L492.4,268.4 L493.4,281.2 L494.7,296.9 L496.0,292.8 L497.4,291.1 L498.4,279.6 L499.3,269.4 L500.3,286.2 L501.6,297.7 L502.6,281.2 L504.0,265.6 L504.9,276.3 L506.3,285.4 L507.6,287.8 L509.2,288.7 L510.6,297.7 L511.9,308.5 L512.9,281.2 L514.2,250.2 L515.2,261.4 L516.5,276.3 L517.8,289.5 L518.8,284.5 L519.8,279.6 L521.1,284.5 L522.4,289.5 L523.8,292.8 L525.1,295.3 L526.4,301.0 L527.7,306.8 L528.4,309.3 L529.4,281.2 L530.5,248.6 L531.3,258.1 L532.3,276.3 L533.3,287.0 L534.3,284.5 L535.0,282.1 L535.6,288.7" fill="none" stroke="#1f77b4" stroke-width="1.2" stroke-linejoin="round" stroke-linecap="round"/>
<rect x="330.8" y="246.05" width="214.30" height="63.8" fill="none" stroke="#222" stroke-width="0.8"/>
<path d="M340.60,309.85v2.3 M360.06,309.85v2.3 M379.52,309.85v2.3 M398.98,309.85v2.3 M418.44,309.85v2.3 M437.90,309.85v2.3 M457.36,309.85v2.3 M476.82,309.85v2.3 M496.28,309.85v2.3 M515.74,309.85v2.3 M535.20,309.85v2.3 M330.8,309.85h-2.3 M330.8,297.09h-2.3 M330.8,284.33h-2.3 M330.8,271.57h-2.3 M330.8,258.81h-2.3 M330.8,246.05h-2.3" stroke="#222" stroke-width="0.85" fill="none"/>
<text class="t" x="340.60" y="318.95" font-size="6.12" text-anchor="middle">0</text>
<text class="t" x="360.06" y="318.95" font-size="6.12" text-anchor="middle">1</text>
<text class="t" x="379.52" y="318.95" font-size="6.12" text-anchor="middle">2</text>
<text class="t" x="398.98" y="318.95" font-size="6.12" text-anchor="middle">3</text>
<text class="t" x="418.44" y="318.95" font-size="6.12" text-anchor="middle">4</text>
<text class="t" x="437.90" y="318.95" font-size="6.12" text-anchor="middle">5</text>
<text class="t" x="457.36" y="318.95" font-size="6.12" text-anchor="middle">6</text>
<text class="t" x="476.82" y="318.95" font-size="6.12" text-anchor="middle">7</text>
<text class="t" x="496.28" y="318.95" font-size="6.12" text-anchor="middle">8</text>
<text class="t" x="515.74" y="318.95" font-size="6.12" text-anchor="middle">9</text>
<text class="t" x="535.20" y="318.95" font-size="6.12" text-anchor="middle">10</text>
<text class="t" x="326.90" y="312.10" font-size="6.12" text-anchor="end">0.0</text>
<text class="t" x="326.90" y="299.34" font-size="6.12" text-anchor="end">0.2</text>
<text class="t" x="326.90" y="286.58" font-size="6.12" text-anchor="end">0.4</text>
<text class="t" x="326.90" y="273.82" font-size="6.12" text-anchor="end">0.6</text>
<text class="t" x="326.90" y="261.06" font-size="6.12" text-anchor="end">0.8</text>
<text class="t" x="326.90" y="248.30" font-size="6.12" text-anchor="end">1.0</text>
<text class="t" x="437.95" y="327.05" font-size="6.03" text-anchor="middle">Time/s</text>
<text class="t" x="437.95" y="242.35" font-size="7.18" stroke-width="0.32" text-anchor="middle">WGAN</text>
<text class="t" transform="translate(313.60,277.95) rotate(-90)" font-size="6.03" text-anchor="middle">Relative pressure amplitude</text>
</g>
<g>
<path d="M340.5,379.5 L341.0,384.5 L341.5,393.6 L342.2,376.2 L342.8,354.8 L343.7,344.1 L344.5,354.8 L345.5,368.0 L346.5,382.8 L347.3,387.8 L348.3,382.0 L349.4,386.1 L350.8,388.6 L352.1,387.8 L353.4,391.1 L354.4,397.7 L355.2,403.0 L356.0,376.2 L356.9,352.3 L357.7,358.1 L358.7,361.4 L359.7,372.9 L360.7,383.7 L362.0,378.7 L363.3,383.7 L364.6,387.8 L365.9,388.6 L367.3,387.8 L368.6,390.3 L369.9,392.7 L371.2,398.5 L372.0,401.0 L372.9,376.2 L373.7,351.5 L374.5,358.1 L375.8,361.4 L376.8,372.9 L377.8,383.7 L379.1,381.2 L380.5,387.0 L381.8,388.6 L383.1,391.9 L384.4,398.5 L385.4,402.6 L386.2,376.2 L387.2,352.3 L388.0,358.1 L389.0,361.4 L390.0,372.9 L391.0,382.8 L392.3,381.2 L393.6,383.7 L395.0,387.0 L396.3,388.6 L397.6,391.9 L398.9,398.5 L399.9,403.0 L400.6,376.2 L401.6,350.7 L402.6,359.7 L403.6,368.0 L404.9,383.7 L405.9,378.2 L406.9,382.8 L408.2,388.6 L409.5,387.8 L410.9,394.4 L411.9,398.5 L412.5,401.0 L413.5,376.2 L414.5,348.2 L415.5,358.1 L416.8,368.0 L418.1,376.2 L419.4,384.5 L420.4,377.1 L421.4,382.8 L422.7,387.0 L424.1,382.8 L425.4,387.8 L426.7,388.6 L428.0,390.3 L429.3,393.6 L430.3,399.3 L431.0,401.8 L431.8,376.2 L432.6,348.2 L433.6,358.1 L434.9,366.3 L436.3,379.5 L437.6,378.7 L438.6,383.7 L439.9,387.0 L441.2,389.4 L442.5,391.9 L443.9,398.5 L444.7,401.8 L445.5,376.2 L446.5,351.5 L447.5,359.7 L448.8,368.0 L450.1,379.5 L451.1,378.7 L452.4,384.5 L453.8,388.6 L455.1,389.4 L456.4,393.6 L457.4,398.5 L458.0,401.0 L459.0,376.2 L460.0,348.2 L461.0,358.1 L462.3,368.0 L463.6,378.7 L465.0,382.8 L466.3,384.5 L467.6,387.8 L468.9,394.4 L469.9,401.8 L470.7,376.2 L471.6,350.7 L472.6,359.7 L473.9,368.0 L474.9,377.9 L475.9,382.8 L476.8,382.0 L478.0,387.8 L478.2,388.6 L479.5,389.4 L480.9,394.4 L482.2,400.2 L482.8,401.8 L483.7,376.2 L484.5,350.7 L485.5,359.7 L486.8,371.3 L487.8,383.7 L489.1,379.5 L490.4,384.5 L491.8,387.8 L493.1,387.0 L494.4,392.7 L495.7,399.3 L496.7,402.3 L497.5,376.2 L498.5,347.9 L499.3,356.4 L500.7,368.0 L502.0,383.7 L503.3,380.4 L504.6,382.8 L505.9,384.5 L507.3,387.0 L508.6,388.6 L509.9,392.7 L511.2,398.5 L512.0,401.0 L512.9,376.2 L513.9,354.0 L514.8,355.6 L515.8,364.7 L516.8,374.6 L517.8,382.8 L519.1,378.7 L520.1,380.4 L521.1,388.6 L522.4,383.7 L523.4,388.6 L524.4,387.0 L525.7,390.3 L527.1,398.5 L528.4,403.5 L529.2,376.2 L530.4,350.2 L531.3,358.1 L532.3,364.7 L533.3,377.9 L534.1,383.7 L535.0,381.2 L535.5,380.4" fill="none" stroke="#1f77b4" stroke-width="1.2" stroke-linejoin="round" stroke-linecap="round"/>
<rect x="330.8" y="341.8" width="214.30" height="63.8" fill="none" stroke="#222" stroke-width="0.8"/>
<path d="M340.60,405.6v2.3 M360.06,405.6v2.3 M379.52,405.6v2.3 M398.98,405.6v2.3 M418.44,405.6v2.3 M437.90,405.6v2.3 M457.36,405.6v2.3 M476.82,405.6v2.3 M496.28,405.6v2.3 M515.74,405.6v2.3 M535.20,405.6v2.3 M330.8,405.60h-2.3 M330.8,392.84h-2.3 M330.8,380.08h-2.3 M330.8,367.32h-2.3 M330.8,354.56h-2.3 M330.8,341.80h-2.3" stroke="#222" stroke-width="0.85" fill="none"/>
<text class="t" x="340.60" y="414.70" font-size="6.12" text-anchor="middle">0</text>
<text class="t" x="360.06" y="414.70" font-size="6.12" text-anchor="middle">1</text>
<text class="t" x="379.52" y="414.70" font-size="6.12" text-anchor="middle">2</text>
<text class="t" x="398.98" y="414.70" font-size="6.12" text-anchor="middle">3</text>
<text class="t" x="418.44" y="414.70" font-size="6.12" text-anchor="middle">4</text>
<text class="t" x="437.90" y="414.70" font-size="6.12" text-anchor="middle">5</text>
<text class="t" x="457.36" y="414.70" font-size="6.12" text-anchor="middle">6</text>
<text class="t" x="476.82" y="414.70" font-size="6.12" text-anchor="middle">7</text>
<text class="t" x="496.28" y="414.70" font-size="6.12" text-anchor="middle">8</text>
<text class="t" x="515.74" y="414.70" font-size="6.12" text-anchor="middle">9</text>
<text class="t" x="535.20" y="414.70" font-size="6.12" text-anchor="middle">10</text>
<text class="t" x="326.90" y="407.85" font-size="6.12" text-anchor="end">0.0</text>
<text class="t" x="326.90" y="395.09" font-size="6.12" text-anchor="end">0.2</text>
<text class="t" x="326.90" y="382.33" font-size="6.12" text-anchor="end">0.4</text>
<text class="t" x="326.90" y="369.57" font-size="6.12" text-anchor="end">0.6</text>
<text class="t" x="326.90" y="356.81" font-size="6.12" text-anchor="end">0.8</text>
<text class="t" x="326.90" y="344.05" font-size="6.12" text-anchor="end">1.0</text>
<text class="t" x="437.95" y="422.80" font-size="6.03" text-anchor="middle">Time/s</text>
<text class="t" x="437.95" y="338.10" font-size="7.18" stroke-width="0.32" text-anchor="middle">WGAN-GP</text>
<text class="t" transform="translate(313.60,373.70) rotate(-90)" font-size="6.03" text-anchor="middle">Relative pressure amplitude</text>
</g>
<text class="cap" x="135.5" y="216.8" font-size="14" text-anchor="middle">(<tspan font-weight="bold">a</tspan>)</text>
<text class="cap" x="434.6" y="216.8" font-size="14" text-anchor="middle">(<tspan font-weight="bold">b</tspan>)</text>
<text class="cap" x="135.5" y="446.0" font-size="14" text-anchor="middle">(<tspan font-weight="bold">c</tspan>)</text>
<text class="cap" x="434.6" y="446.0" font-size="14" text-anchor="middle">(<tspan font-weight="bold">d</tspan>)</text>
</svg>
</body></html>
